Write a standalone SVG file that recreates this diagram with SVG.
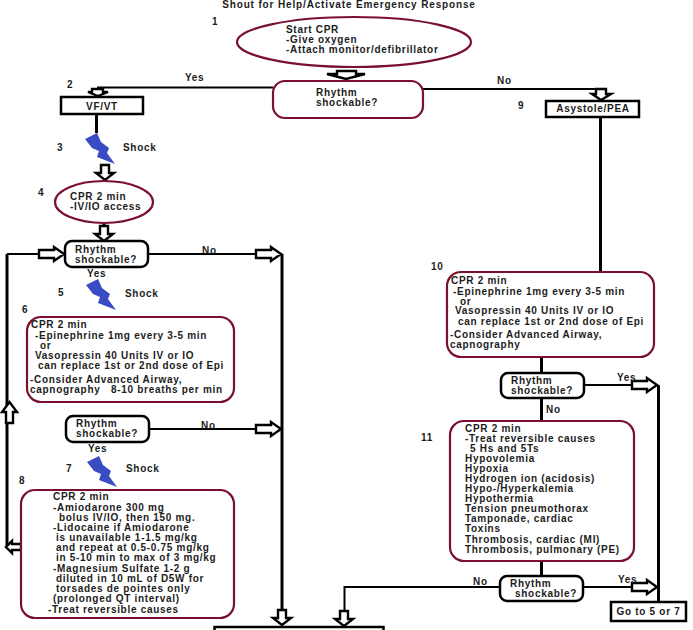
<svg xmlns="http://www.w3.org/2000/svg" xmlns:xlink="http://www.w3.org/1999/xlink" width="693" height="630" viewBox="0 0 693 630">
<style>
text{font-family:"Liberation Sans",Arial,sans-serif;font-weight:bold;font-size:10px;fill:#1c1c1c;letter-spacing:.7px}
.m{text-anchor:middle}
.ttl{font-size:10px;letter-spacing:.85px}
.red{fill:#fff;stroke:#7a1030;stroke-width:2.2}
.blk{fill:#fff;stroke:#000;stroke-width:2.5}
.ln{fill:none;stroke:#000;stroke-width:2}
.th{fill:none;stroke:#000;stroke-width:3}
.ar{fill:#fff;stroke:#000;stroke-width:2.4}
.bolt{fill:#3a4cc4}
</style>
<defs>
<path id="arr" class="ar" d="M-25-4H-10V-7L0 0-10 7V4H-25Z"/>
<path id="dn" class="ar" d="M-4-15H4V-7H9L0 0-9-7H-4Z"/>
<path id="bolt" class="bolt" d="M0 6 12 0 16 9 24 15 22 20 30 31 12 24 14 18 7 15Z"/>
</defs>
<rect width="693" height="630" fill="#fff"/>
<g id="connectors">
<path class="ln" d="M273 87.500H97M423 89H601M148 254H282M149 429H282M7 254H64M584 385H657M583 587H657M500 587H344.500V612"/>
<path class="th" d="M96.500 114V133M105 164V181M104 223V242M282 254V612M7 254V547H22M600.500 117V272M541.500 357V373M541.500 398V421M541.500 561V576M658.500 385V602"/>
<path class="ar" d="M92 89H103V92H108L98 96 88 92H92Z"/>
<path class="ar" d="M596 89H606V94H611L601 100 592 94H596Z"/>
<path class="ar" d="M337 71H356V74H365L346 79 327 74H337Z"/>
<use xlink:href="#dn" href="#dn" x="105" y="180"/>
<use xlink:href="#dn" href="#dn" x="104" y="241"/>
<use xlink:href="#arr" href="#arr" x="64" y="254"/>
<use xlink:href="#arr" href="#arr" x="281" y="254"/>
<use xlink:href="#arr" href="#arr" x="281" y="429"/>
<path class="ar" d="M6 423V412H2L9.500 402 17 412H13V423Z"/>
<path class="ar" d="M21 544V550H12V553L6 547 12 541V544Z"/>
<use xlink:href="#dn" href="#dn" x="282" y="625"/>
<use xlink:href="#dn" href="#dn" x="344" y="626"/>
<use xlink:href="#arr" href="#arr" x="657" y="385"/>
<use xlink:href="#arr" href="#arr" x="657" y="587"/>
</g>
<g id="title"><text x="349" y="7.500" class="m ttl">Shout for Help/Activate Emergency Response</text></g>
<g id="step-numbers">
<text x="212" y="25">1</text><text x="67" y="88">2</text><text x="57" y="151">3</text><text x="38" y="196">4</text><text x="58" y="296">5</text><text x="22" y="313">6</text><text x="66" y="472">7</text><text x="19" y="484">8</text><text x="518" y="109">9</text><text x="431" y="270">10</text><text x="421" y="441">11</text>
</g>
<g id="edge-labels">
<text x="185" y="81">Yes</text><text x="497" y="84">No</text><text x="202" y="254">No</text><text x="87" y="277">Yes</text><text x="201" y="429">No</text><text x="88" y="452">Yes</text><text x="617" y="381">Yes</text><text x="546" y="413">No</text><text x="618" y="583">Yes</text><text x="473" y="585">No</text>
</g>
<g id="node-1"><ellipse class="red" cx="354" cy="42" rx="117" ry="25"/><text x="286" y="33">Start CPR</text><text x="286" y="43">-Give oxygen</text><text x="286" y="53">-Attach monitor/defibrillator</text></g>
<g id="node-rhythm-1"><rect class="red" x="273" y="81" width="150" height="37" rx="12"/><text x="316" y="96">Rhythm</text><text x="316" y="106">shockable?</text></g>
<g id="node-2"><rect class="blk" x="61" y="97" width="82" height="17"/><text x="102" y="110" class="m">VF/VT</text></g>
<g id="node-3"><use xlink:href="#bolt" href="#bolt" x="85" y="133"/><text x="123" y="151">Shock</text></g>
<g id="node-4"><ellipse class="red" cx="104" cy="202" rx="49" ry="21"/><text x="70" y="200">CPR 2 min</text><text x="70" y="210">-IV/IO access</text></g>
<g id="node-rhythm-2"><rect class="blk" x="65" y="241" width="83" height="26" rx="7"/><text x="75" y="253">Rhythm</text><text x="75" y="263">shockable?</text></g>
<g id="node-5"><use xlink:href="#bolt" href="#bolt" x="86" y="279"/><text x="125" y="297">Shock</text></g>
<g id="node-6"><rect class="red" x="27" y="317" width="207" height="85" rx="14"/><text x="31" y="328">CPR 2 min</text><text x="35" y="339">-Epinephrine 1mg every 3-5 min</text><text x="40" y="349">or</text><text x="35" y="359">Vasopressin 40 Units IV or IO</text><text x="38" y="369">can replace 1st or 2nd dose of Epi</text><text x="30" y="383">-Consider Advanced Airway,</text><text x="30" y="393">capnography <tspan x="111">8-10 breaths per min</tspan></text></g>
<g id="node-rhythm-3"><rect class="blk" x="66" y="416" width="83" height="26" rx="7"/><text x="76" y="427">Rhythm</text><text x="76" y="437">shockable?</text></g>
<g id="node-7"><use xlink:href="#bolt" href="#bolt" x="87" y="456"/><text x="126" y="472">Shock</text></g>
<g id="node-8"><rect class="red" x="21" y="490" width="213" height="128" rx="14"/><text x="53" y="500">CPR 2 min</text><text x="53" y="511">-Amiodarone 300 mg</text><text x="59" y="521">bolus IV/IO, then 150 mg.</text><text x="53" y="531">-Lidocaine if Amiodarone</text><text x="56" y="541">is unavailable 1-1.5 mg/kg</text><text x="56" y="551">and repeat at 0.5-0.75 mg/kg</text><text x="56" y="561">in 5-10 min to max of 3 mg/kg</text><text x="53" y="572">-Magnesium Sulfate 1-2 g</text><text x="56" y="582">diluted in 10 mL of D5W for</text><text x="56" y="592">torsades de pointes only</text><text x="53" y="602">(prolonged QT interval)</text><text x="48" y="613">-Treat reversible causes</text></g>
<g id="node-9"><rect class="blk" x="546" y="101" width="93" height="16"/><text x="593" y="112" class="m">Asystole/PEA</text></g>
<g id="node-10"><rect class="red" x="447" y="272" width="207" height="85" rx="14"/><text x="451" y="284">CPR 2 min</text><text x="453" y="295">-Epinephrine 1mg every 3-5 min</text><text x="460" y="304.500">or</text><text x="455" y="314">Vasopressin 40 Units IV or IO</text><text x="458" y="325">can replace 1st or 2nd dose of Epi</text><text x="450" y="338">-Consider Advanced Airway,</text><text x="450" y="348">capnography</text></g>
<g id="node-rhythm-4"><rect class="blk" x="501" y="373" width="83" height="25" rx="7"/><text x="511" y="384">Rhythm</text><text x="511" y="394">shockable?</text></g>
<g id="node-11"><rect class="red" x="450" y="421" width="184" height="140" rx="14"/><text x="465" y="432">CPR 2 min</text><text x="465" y="442">-Treat reversible causes</text><text x="470" y="452">5 Hs and 5Ts</text><text x="465" y="462">Hypovolemia</text><text x="465" y="472">Hypoxia</text><text x="465" y="482">Hydrogen ion (acidosis)</text><text x="465" y="492">Hypo-/Hyperkalemia</text><text x="465" y="502">Hypothermia</text><text x="465" y="512">Tension pneumothorax</text><text x="465" y="522">Tamponade, cardiac</text><text x="465" y="532">Toxins</text><text x="465" y="543">Thrombosis, cardiac (MI)</text><text x="465" y="553">Thrombosis, pulmonary (PE)</text></g>
<g id="node-rhythm-5"><rect class="blk" x="500" y="576" width="83" height="25" rx="7"/><text x="510" y="587">Rhythm</text><text x="515" y="597">shockable?</text></g>
<g id="node-go"><rect class="blk" x="611" y="602" width="75" height="19"/><text x="648.500" y="615" class="m">Go to 5 or 7</text></g>
<g id="node-end"><rect class="blk" x="214.500" y="627" width="169" height="20"/></g>
</svg>
